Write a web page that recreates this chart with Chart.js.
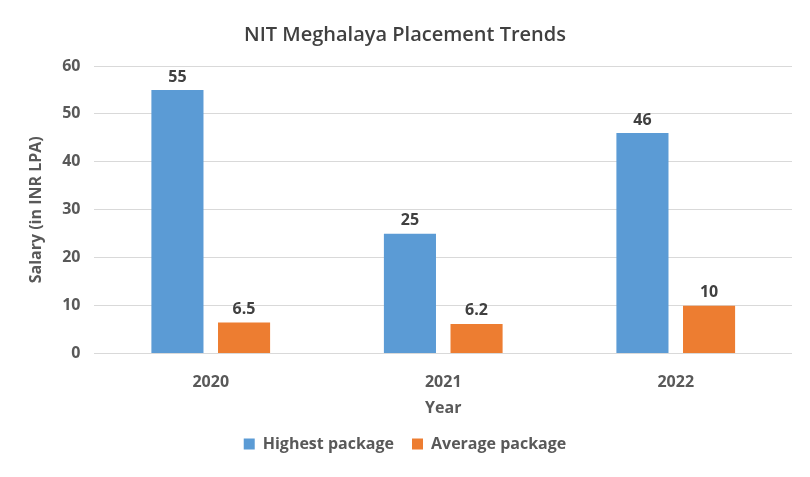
<!DOCTYPE html>
<html>
<head>
<meta charset="utf-8">
<script src="https://cdn.jsdelivr.net/npm/chart.js@4/dist/chart.umd.min.js"></script>
<style>
  html, body { margin: 0; padding: 0; background: #fff; }
  #wrap { width: 810px; height: 477px; }
</style>
</head>
<body>
<div id="wrap"><canvas id="placementChart" width="810" height="477"></canvas></div>
<script>
// Chart values
const years = ['2020', '2021', '2022'];
const highestPackage = [55, 25, 46];
const averagePackage = [6.5, 6.2, 10];
const yTicks = [0, 10, 20, 30, 40, 50, 60];

const textGrey = '#595959';
const fontFamily = "'Open Sans', 'Liberation Sans', sans-serif";

// Small plugin to write the value above each bar
const barValueLabels = {
  id: 'barValueLabels',
  afterDatasetsDraw(chart) {
    const ctx = chart.ctx;
    ctx.save();
    ctx.font = 'bold 16px ' + fontFamily;
    ctx.fillStyle = '#404040';
    ctx.textAlign = 'center';
    ctx.textBaseline = 'bottom';
    chart.data.datasets.forEach((ds, i) => {
      chart.getDatasetMeta(i).data.forEach((bar, j) => {
        ctx.fillText(String(ds.data[j]), bar.x, bar.y - 5);
      });
    });
    ctx.restore();
  }
};

const ctx = document.getElementById('placementChart').getContext('2d');

const placementChart = new Chart(ctx, {
  type: 'bar',
  data: {
    labels: years,
    datasets: [
      {
        label: 'Highest package',
        data: highestPackage,
        backgroundColor: '#5b9bd5',
        categoryPercentage: 0.573,
        barPercentage: 0.782,
      },
      {
        label: 'Average package',
        data: averagePackage,
        backgroundColor: '#ed7d31',
        categoryPercentage: 0.573,
        barPercentage: 0.782,
      },
    ],
  },
  options: {
    responsive: false,
    animation: false,
    layout: {
      padding: { left: 18, right: 18, top: 13, bottom: 15 },
    },
    plugins: {
      title: {
        display: true,
        text: 'NIT Meghalaya Placement Trends',
        color: '#404040',
        font: { family: fontFamily, size: 20, weight: '600' },
        padding: { top: 10, bottom: 19 },
      },
      legend: {
        position: 'bottom',
        labels: {
          color: textGrey,
          font: { family: fontFamily, size: 16, weight: 'bold' },
          boxWidth: 11,
          boxHeight: 11,
          padding: 18,
        },
      },
      tooltip: { enabled: false },
    },
    scales: {
      x: {
        grid: { display: false },
        border: { display: false },
        ticks: {
          color: textGrey,
          font: { family: fontFamily, size: 16, weight: 'bold' },
          padding: 11,
        },
        title: {
          display: true,
          text: 'Year',
          color: textGrey,
          font: { family: fontFamily, size: 16, weight: 'bold' },
          padding: { top: -4, bottom: 0 },
        },
      },
      y: {
        min: 0,
        max: 60,
        afterBuildTicks(scale) {
          scale.ticks = yTicks.map(v => ({ value: v }));
        },
        grid: { color: '#d9d9d9', drawTicks: false },
        border: { display: false },
        ticks: {
          color: textGrey,
          font: { family: fontFamily, size: 16, weight: 'bold' },
          padding: 14,
        },
        title: {
          display: true,
          text: 'Salary (in INR LPA)',
          color: textGrey,
          font: { family: fontFamily, size: 16, weight: 'bold' },
          padding: { top: 9, bottom: 2 },
        },
      },
    },
  },
  plugins: [barValueLabels],
});
</script>
</body>
</html>
